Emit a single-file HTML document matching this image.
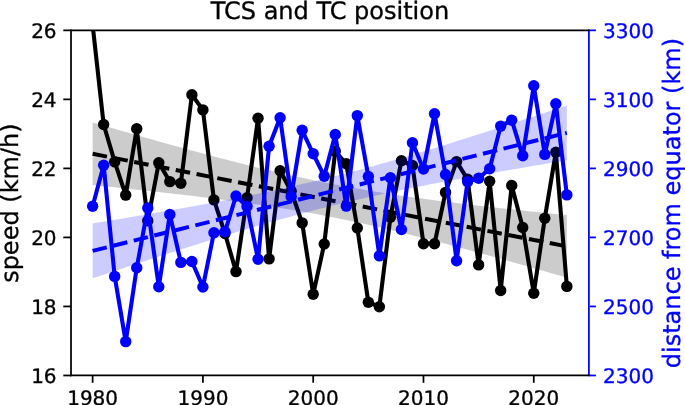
<!DOCTYPE html>
<html><head><meta charset="utf-8"><title>TCS and TC position</title>
<style>
html,body{margin:0;padding:0;background:#fff;}
body{width:685px;height:405px;overflow:hidden;}
svg{display:block;}
text{font-family:'DejaVu Sans','Liberation Sans',sans-serif;text-rendering:geometricPrecision;stroke-width:0.35px;stroke-linejoin:round;}
.k{fill:#000;stroke:#000;}
.b{fill:#00f;stroke:#00f;}
</style></head><body>
<svg width="685" height="405" viewBox="0 0 685 405">
<rect width="685" height="405" fill="#fff"/>
<defs><clipPath id="ax"><rect x="71.0" y="30.35" width="517.90" height="345.12"/></clipPath></defs>

<g clip-path="url(#ax)">
<path d="M92.63,122.50 L98.14,124.10 L103.66,125.69 L109.17,127.28 L114.69,128.87 L120.20,130.45 L125.72,132.03 L131.23,133.60 L136.74,135.17 L142.26,136.74 L147.77,138.29 L153.29,139.85 L158.80,141.39 L164.32,142.93 L169.83,144.46 L175.34,145.99 L180.86,147.51 L186.37,149.02 L191.89,150.52 L197.40,152.01 L202.91,153.49 L208.43,154.97 L213.94,156.43 L219.46,157.88 L224.97,159.32 L230.49,160.75 L236.00,162.16 L241.51,163.56 L247.03,164.94 L252.54,166.31 L258.06,167.67 L263.57,169.00 L269.09,170.32 L274.60,171.62 L280.11,172.90 L285.63,174.17 L291.14,175.41 L296.66,176.63 L302.17,177.83 L307.69,179.01 L313.20,180.17 L318.71,181.30 L324.23,182.41 L329.74,183.50 L335.26,184.57 L340.77,185.61 L346.29,186.63 L351.80,187.62 L357.31,188.60 L362.83,189.55 L368.34,190.48 L373.86,191.40 L379.37,192.29 L384.89,193.16 L390.40,194.01 L395.91,194.84 L401.43,195.66 L406.94,196.46 L412.46,197.24 L417.97,198.01 L423.48,198.77 L429.00,199.51 L434.51,200.23 L440.03,200.95 L445.54,201.65 L451.06,202.34 L456.57,203.02 L462.08,203.70 L467.60,204.36 L473.11,205.01 L478.63,205.65 L484.14,206.29 L489.66,206.92 L495.17,207.54 L500.68,208.15 L506.20,208.76 L511.71,209.36 L517.23,209.96 L522.74,210.55 L528.26,211.13 L533.77,211.71 L539.28,212.29 L544.80,212.86 L550.31,213.42 L555.83,213.99 L561.34,214.54 L566.86,215.10 L566.86,277.70 L561.34,276.10 L555.83,274.51 L550.31,272.92 L544.80,271.33 L539.28,269.75 L533.77,268.17 L528.26,266.60 L522.74,265.03 L517.23,263.46 L511.71,261.91 L506.20,260.35 L500.68,258.81 L495.17,257.27 L489.66,255.74 L484.14,254.21 L478.63,252.69 L473.11,251.18 L467.60,249.68 L462.08,248.19 L456.57,246.71 L451.06,245.23 L445.54,243.77 L440.03,242.32 L434.51,240.88 L429.00,239.45 L423.48,238.04 L417.97,236.64 L412.46,235.26 L406.94,233.89 L401.43,232.53 L395.91,231.20 L390.40,229.88 L384.89,228.58 L379.37,227.30 L373.86,226.03 L368.34,224.79 L362.83,223.57 L357.31,222.37 L351.80,221.19 L346.29,220.03 L340.77,218.90 L335.26,217.79 L329.74,216.70 L324.23,215.63 L318.71,214.59 L313.20,213.57 L307.69,212.58 L302.17,211.60 L296.66,210.65 L291.14,209.72 L285.63,208.80 L280.11,207.91 L274.60,207.04 L269.09,206.19 L263.57,205.36 L258.06,204.54 L252.54,203.74 L247.03,202.96 L241.51,202.19 L236.00,201.43 L230.49,200.69 L224.97,199.97 L219.46,199.25 L213.94,198.55 L208.43,197.86 L202.91,197.18 L197.40,196.50 L191.89,195.84 L186.37,195.19 L180.86,194.55 L175.34,193.91 L169.83,193.28 L164.32,192.66 L158.80,192.05 L153.29,191.44 L147.77,190.84 L142.26,190.24 L136.74,189.65 L131.23,189.07 L125.72,188.49 L120.20,187.91 L114.69,187.34 L109.17,186.78 L103.66,186.21 L98.14,185.66 L92.63,185.10Z" fill="#000" fill-opacity="0.2"/>
<polyline points="92.63,25.00 103.66,124.50 114.69,161.90 125.72,195.10 136.74,128.80 147.77,220.70 158.80,162.80 169.83,181.60 180.86,183.30 191.89,94.80 202.91,109.90 213.94,199.90 224.97,233.50 236.00,271.60 247.03,197.70 258.06,118.30 269.09,258.90 280.11,170.80 291.14,191.30 302.17,222.90 313.20,294.30 324.23,244.00 335.26,151.30 346.29,163.80 357.31,228.00 368.34,302.30 379.37,306.70 390.40,217.30 401.43,160.70 412.46,165.50 423.48,243.70 434.51,243.70 445.54,192.40 456.57,161.60 467.60,179.30 478.63,264.90 489.66,181.30 500.68,290.50 511.71,185.50 522.74,227.50 533.77,293.20 544.80,218.20 555.83,152.30 566.86,286.40" fill="none" stroke="#000" stroke-width="4.1" stroke-linejoin="round" stroke-linecap="butt"/>
<g fill="#000"><circle cx="92.63" cy="25.00" r="5.7"/><circle cx="103.66" cy="124.50" r="5.7"/><circle cx="114.69" cy="161.90" r="5.7"/><circle cx="125.72" cy="195.10" r="5.7"/><circle cx="136.74" cy="128.80" r="5.7"/><circle cx="147.77" cy="220.70" r="5.7"/><circle cx="158.80" cy="162.80" r="5.7"/><circle cx="169.83" cy="181.60" r="5.7"/><circle cx="180.86" cy="183.30" r="5.7"/><circle cx="191.89" cy="94.80" r="5.7"/><circle cx="202.91" cy="109.90" r="5.7"/><circle cx="213.94" cy="199.90" r="5.7"/><circle cx="224.97" cy="233.50" r="5.7"/><circle cx="236.00" cy="271.60" r="5.7"/><circle cx="247.03" cy="197.70" r="5.7"/><circle cx="258.06" cy="118.30" r="5.7"/><circle cx="269.09" cy="258.90" r="5.7"/><circle cx="280.11" cy="170.80" r="5.7"/><circle cx="291.14" cy="191.30" r="5.7"/><circle cx="302.17" cy="222.90" r="5.7"/><circle cx="313.20" cy="294.30" r="5.7"/><circle cx="324.23" cy="244.00" r="5.7"/><circle cx="335.26" cy="151.30" r="5.7"/><circle cx="346.29" cy="163.80" r="5.7"/><circle cx="357.31" cy="228.00" r="5.7"/><circle cx="368.34" cy="302.30" r="5.7"/><circle cx="379.37" cy="306.70" r="5.7"/><circle cx="390.40" cy="217.30" r="5.7"/><circle cx="401.43" cy="160.70" r="5.7"/><circle cx="412.46" cy="165.50" r="5.7"/><circle cx="423.48" cy="243.70" r="5.7"/><circle cx="434.51" cy="243.70" r="5.7"/><circle cx="445.54" cy="192.40" r="5.7"/><circle cx="456.57" cy="161.60" r="5.7"/><circle cx="467.60" cy="179.30" r="5.7"/><circle cx="478.63" cy="264.90" r="5.7"/><circle cx="489.66" cy="181.30" r="5.7"/><circle cx="500.68" cy="290.50" r="5.7"/><circle cx="511.71" cy="185.50" r="5.7"/><circle cx="522.74" cy="227.50" r="5.7"/><circle cx="533.77" cy="293.20" r="5.7"/><circle cx="544.80" cy="218.20" r="5.7"/><circle cx="555.83" cy="152.30" r="5.7"/><circle cx="566.86" cy="286.40" r="5.7"/></g>
<line x1="92.63" y1="153.8" x2="566.86" y2="246.4" stroke="#000" stroke-width="4.0" stroke-dasharray="14.6 6.57"/>
<path d="M92.63,223.50 L98.14,222.59 L103.66,221.67 L109.17,220.75 L114.69,219.83 L120.20,218.91 L125.72,217.98 L131.23,217.04 L136.74,216.10 L142.26,215.16 L147.77,214.21 L153.29,213.26 L158.80,212.30 L164.32,211.34 L169.83,210.37 L175.34,209.40 L180.86,208.41 L186.37,207.42 L191.89,206.43 L197.40,205.42 L202.91,204.41 L208.43,203.39 L213.94,202.36 L219.46,201.32 L224.97,200.27 L230.49,199.20 L236.00,198.13 L241.51,197.04 L247.03,195.94 L252.54,194.83 L258.06,193.71 L263.57,192.56 L269.09,191.41 L274.60,190.23 L280.11,189.04 L285.63,187.84 L291.14,186.61 L296.66,185.37 L302.17,184.11 L307.69,182.83 L313.20,181.52 L318.71,180.20 L324.23,178.86 L329.74,177.50 L335.26,176.12 L340.77,174.72 L346.29,173.29 L351.80,171.85 L357.31,170.39 L362.83,168.90 L368.34,167.40 L373.86,165.88 L379.37,164.35 L384.89,162.79 L390.40,161.22 L395.91,159.63 L401.43,158.03 L406.94,156.41 L412.46,154.78 L417.97,153.14 L423.48,151.48 L429.00,149.81 L434.51,148.13 L440.03,146.43 L445.54,144.73 L451.06,143.02 L456.57,141.29 L462.08,139.56 L467.60,137.82 L473.11,136.08 L478.63,134.32 L484.14,132.56 L489.66,130.79 L495.17,129.01 L500.68,127.23 L506.20,125.45 L511.71,123.66 L517.23,121.86 L522.74,120.06 L528.26,118.25 L533.77,116.44 L539.28,114.63 L544.80,112.81 L550.31,110.99 L555.83,109.16 L561.34,107.33 L566.86,105.50 L566.86,160.30 L561.34,161.21 L555.83,162.13 L550.31,163.05 L544.80,163.97 L539.28,164.89 L533.77,165.82 L528.26,166.76 L522.74,167.70 L517.23,168.64 L511.71,169.59 L506.20,170.54 L500.68,171.50 L495.17,172.46 L489.66,173.43 L484.14,174.40 L478.63,175.39 L473.11,176.38 L467.60,177.37 L462.08,178.38 L456.57,179.39 L451.06,180.41 L445.54,181.44 L440.03,182.48 L434.51,183.53 L429.00,184.60 L423.48,185.67 L417.97,186.76 L412.46,187.86 L406.94,188.97 L401.43,190.09 L395.91,191.24 L390.40,192.39 L384.89,193.57 L379.37,194.76 L373.86,195.96 L368.34,197.19 L362.83,198.43 L357.31,199.69 L351.80,200.97 L346.29,202.28 L340.77,203.60 L335.26,204.94 L329.74,206.30 L324.23,207.68 L318.71,209.08 L313.20,210.51 L307.69,211.95 L302.17,213.41 L296.66,214.90 L291.14,216.40 L285.63,217.92 L280.11,219.45 L274.60,221.01 L269.09,222.58 L263.57,224.17 L258.06,225.77 L252.54,227.39 L247.03,229.02 L241.51,230.66 L236.00,232.32 L230.49,233.99 L224.97,235.67 L219.46,237.37 L213.94,239.07 L208.43,240.78 L202.91,242.51 L197.40,244.24 L191.89,245.98 L186.37,247.72 L180.86,249.48 L175.34,251.24 L169.83,253.01 L164.32,254.79 L158.80,256.57 L153.29,258.35 L147.77,260.14 L142.26,261.94 L136.74,263.74 L131.23,265.55 L125.72,267.36 L120.20,269.17 L114.69,270.99 L109.17,272.81 L103.66,274.64 L98.14,276.47 L92.63,278.30Z" fill="#00f" fill-opacity="0.2"/>
<polyline points="92.63,206.30 103.66,165.30 114.69,276.40 125.72,341.60 136.74,267.80 147.77,208.00 158.80,286.80 169.83,214.50 180.86,262.40 191.89,261.50 202.91,287.00 213.94,232.70 224.97,231.80 236.00,196.00 247.03,206.40 258.06,259.30 269.09,146.30 280.11,117.80 291.14,196.40 302.17,130.30 313.20,153.80 324.23,176.20 335.26,134.50 346.29,206.10 357.31,115.60 368.34,176.50 379.37,255.90 390.40,177.80 401.43,229.50 412.46,142.80 423.48,169.00 434.51,113.80 445.54,174.50 456.57,260.70 467.60,181.60 478.63,178.30 489.66,168.70 500.68,126.10 511.71,120.20 522.74,155.80 533.77,85.70 544.80,154.40 555.83,103.80 566.86,194.90" fill="none" stroke="#00f" stroke-width="4.1" stroke-linejoin="round" stroke-linecap="butt"/>
<g fill="#00f"><circle cx="92.63" cy="206.30" r="5.7"/><circle cx="103.66" cy="165.30" r="5.7"/><circle cx="114.69" cy="276.40" r="5.7"/><circle cx="125.72" cy="341.60" r="5.7"/><circle cx="136.74" cy="267.80" r="5.7"/><circle cx="147.77" cy="208.00" r="5.7"/><circle cx="158.80" cy="286.80" r="5.7"/><circle cx="169.83" cy="214.50" r="5.7"/><circle cx="180.86" cy="262.40" r="5.7"/><circle cx="191.89" cy="261.50" r="5.7"/><circle cx="202.91" cy="287.00" r="5.7"/><circle cx="213.94" cy="232.70" r="5.7"/><circle cx="224.97" cy="231.80" r="5.7"/><circle cx="236.00" cy="196.00" r="5.7"/><circle cx="247.03" cy="206.40" r="5.7"/><circle cx="258.06" cy="259.30" r="5.7"/><circle cx="269.09" cy="146.30" r="5.7"/><circle cx="280.11" cy="117.80" r="5.7"/><circle cx="291.14" cy="196.40" r="5.7"/><circle cx="302.17" cy="130.30" r="5.7"/><circle cx="313.20" cy="153.80" r="5.7"/><circle cx="324.23" cy="176.20" r="5.7"/><circle cx="335.26" cy="134.50" r="5.7"/><circle cx="346.29" cy="206.10" r="5.7"/><circle cx="357.31" cy="115.60" r="5.7"/><circle cx="368.34" cy="176.50" r="5.7"/><circle cx="379.37" cy="255.90" r="5.7"/><circle cx="390.40" cy="177.80" r="5.7"/><circle cx="401.43" cy="229.50" r="5.7"/><circle cx="412.46" cy="142.80" r="5.7"/><circle cx="423.48" cy="169.00" r="5.7"/><circle cx="434.51" cy="113.80" r="5.7"/><circle cx="445.54" cy="174.50" r="5.7"/><circle cx="456.57" cy="260.70" r="5.7"/><circle cx="467.60" cy="181.60" r="5.7"/><circle cx="478.63" cy="178.30" r="5.7"/><circle cx="489.66" cy="168.70" r="5.7"/><circle cx="500.68" cy="126.10" r="5.7"/><circle cx="511.71" cy="120.20" r="5.7"/><circle cx="522.74" cy="155.80" r="5.7"/><circle cx="533.77" cy="85.70" r="5.7"/><circle cx="544.80" cy="154.40" r="5.7"/><circle cx="555.83" cy="103.80" r="5.7"/><circle cx="566.86" cy="194.90" r="5.7"/></g>
<line x1="92.63" y1="250.9" x2="566.86" y2="132.9" stroke="#00f" stroke-width="4.0" stroke-dasharray="14.6 6.57"/>
</g>
<line x1="588.9" y1="30.35" x2="588.9" y2="375.47" stroke="#00f" stroke-width="1.75" stroke-linecap="square"/>
<g stroke="#000" stroke-width="1.75" fill="none" stroke-linecap="square">
<line x1="71.0" y1="30.35" x2="71.0" y2="375.47"/>
<line x1="71.0" y1="30.35" x2="588.9" y2="30.35"/>
<line x1="71.0" y1="375.47" x2="588.9" y2="375.47"/>
</g>
<g stroke="#000" stroke-width="1.75">
<line x1="63.30" y1="30.35" x2="71.0" y2="30.35"/>
<line x1="63.30" y1="99.37" x2="71.0" y2="99.37"/>
<line x1="63.30" y1="168.40" x2="71.0" y2="168.40"/>
<line x1="63.30" y1="237.42" x2="71.0" y2="237.42"/>
<line x1="63.30" y1="306.45" x2="71.0" y2="306.45"/>
<line x1="63.30" y1="375.47" x2="71.0" y2="375.47"/>
<line x1="92.63" y1="375.47" x2="92.63" y2="382.77"/>
<line x1="202.91" y1="375.47" x2="202.91" y2="382.77"/>
<line x1="313.20" y1="375.47" x2="313.20" y2="382.77"/>
<line x1="423.48" y1="375.47" x2="423.48" y2="382.77"/>
<line x1="533.77" y1="375.47" x2="533.77" y2="382.77"/>
</g>
<g stroke="#00f" stroke-width="1.75">
<line x1="589.77" y1="30.35" x2="595.90" y2="30.35"/>
<line x1="589.77" y1="99.37" x2="595.90" y2="99.37"/>
<line x1="589.77" y1="168.40" x2="595.90" y2="168.40"/>
<line x1="589.77" y1="237.42" x2="595.90" y2="237.42"/>
<line x1="589.77" y1="306.45" x2="595.90" y2="306.45"/>
<line x1="589.77" y1="375.47" x2="595.90" y2="375.47"/>
</g>
<g class="k" font-size="20" text-anchor="end">
<text x="56.60" y="37.95">26</text>
<text x="56.60" y="106.97">24</text>
<text x="56.60" y="176.00">22</text>
<text x="56.60" y="245.02">20</text>
<text x="56.60" y="314.05">18</text>
<text x="56.60" y="383.07">16</text>
</g>
<g class="k" font-size="20" text-anchor="middle">
<text x="92.63" y="405.07">1980</text>
<text x="202.91" y="405.07">1990</text>
<text x="313.20" y="405.07">2000</text>
<text x="423.48" y="405.07">2010</text>
<text x="533.77" y="405.07">2020</text>
</g>
<g class="b" font-size="20" text-anchor="start">
<text x="603.10" y="37.95">3300</text>
<text x="603.10" y="106.97">3100</text>
<text x="603.10" y="176.00">2900</text>
<text x="603.10" y="245.02">2700</text>
<text x="603.10" y="314.05">2500</text>
<text x="603.10" y="383.07">2300</text>
</g>
<text x="329.95" y="18.6" font-size="24" text-anchor="middle" class="k">TCS and TC position</text>
<text transform="translate(17.7,203.15) rotate(-90)" font-size="24" text-anchor="middle" class="k">speed (km/h)</text>
<text transform="translate(680.4,203.1) rotate(-90)" font-size="24" text-anchor="middle" class="b">distance from equator (km)</text>
</svg></body></html>
